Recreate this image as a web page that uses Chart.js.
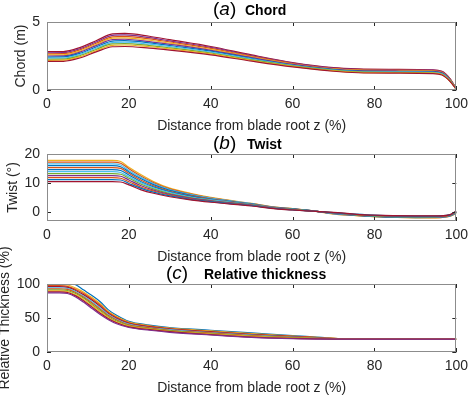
<!DOCTYPE html>
<html><head><meta charset="utf-8">
<script src="https://cdn.jsdelivr.net/npm/chart.js@4.4.1/dist/chart.umd.min.js"></script>
<style>
html,body{margin:0;padding:0;background:#fff;}
#wrap{position:relative;width:474px;height:396px;overflow:hidden;}
#wrap canvas{position:absolute;left:0;top:0;}
</style></head><body>
<div id="wrap">
<canvas id="cA" width="474" height="396"></canvas>
<canvas id="cB" width="474" height="396"></canvas>
<canvas id="cC" width="474" height="396"></canvas>
</div>
<script>
// ---------- data ----------
const xTicks = [0, 20, 40, 60, 80, 100];
const xTitle = 'Distance from blade root z (%)';

// (a) Chord (m)
const chordX = [0, 4, 8, 12, 16, 19, 25, 30, 40, 50, 60, 70, 76, 85, 94, 96.5, 98.5, 100];
const chordSeries = [
  [2.10,2.11,2.35,2.80,3.18,3.20,3.08,2.93,2.58,2.12,1.70,1.38,1.27,1.24,1.21,1.10,0.62,0.05],
  [2.18,2.19,2.44,2.89,3.28,3.31,3.18,3.02,2.65,2.17,1.74,1.41,1.30,1.27,1.24,1.13,0.64,0.05],
  [2.26,2.27,2.52,2.98,3.39,3.41,3.27,3.10,2.72,2.22,1.77,1.44,1.33,1.30,1.27,1.16,0.66,0.06],
  [2.34,2.35,2.61,3.07,3.49,3.52,3.37,3.19,2.79,2.27,1.81,1.47,1.36,1.33,1.30,1.19,0.69,0.06],
  [2.42,2.43,2.69,3.16,3.60,3.63,3.47,3.27,2.86,2.32,1.84,1.50,1.39,1.36,1.33,1.22,0.71,0.06],
  [2.50,2.51,2.78,3.26,3.70,3.73,3.56,3.36,2.92,2.38,1.88,1.52,1.43,1.40,1.37,1.26,0.73,0.07],
  [2.58,2.59,2.86,3.35,3.81,3.84,3.66,3.44,2.99,2.43,1.91,1.55,1.46,1.43,1.40,1.29,0.75,0.07],
  [2.66,2.67,2.95,3.44,3.91,3.95,3.76,3.53,3.06,2.48,1.95,1.58,1.49,1.46,1.43,1.32,0.78,0.07],
  [2.74,2.75,3.03,3.53,4.02,4.05,3.85,3.61,3.13,2.53,1.98,1.61,1.52,1.49,1.46,1.35,0.80,0.08],
  [2.82,2.83,3.12,3.62,4.12,4.16,3.95,3.70,3.20,2.58,2.02,1.64,1.55,1.52,1.49,1.38,0.82,0.08]
];
const chordYTicks = [0, 5];

// (b) Twist (deg)
const twistX = [0, 10, 16, 18, 20, 23, 26, 30, 35, 40, 50, 56, 60, 65, 70, 75, 80, 90, 96, 98.5, 100];
const twistSeries = [
  [10.4,10.4,10.4,10.3,9.3,7.6,6.4,5.2,4.1,3.3,2.0,1.0,0.6,0.2,-0.2,-0.8,-1.2,-1.4,-1.4,-1.0,0.3],
  [11.1,11.1,11.1,11.0,9.8,8.1,6.8,5.5,4.3,3.5,2.1,1.1,0.6,0.2,-0.3,-0.8,-1.2,-1.5,-1.4,-1.0,0.2],
  [11.8,11.8,11.8,11.6,10.4,8.5,7.2,5.8,4.5,3.6,2.2,1.1,0.7,0.2,-0.3,-0.9,-1.3,-1.5,-1.5,-1.1,0.1],
  [12.5,12.5,12.5,12.3,11.0,9.0,7.5,6.0,4.7,3.8,2.3,1.2,0.7,0.2,-0.4,-0.9,-1.3,-1.6,-1.6,-1.1,0.1],
  [13.2,13.2,13.2,13.0,11.6,9.5,7.9,6.3,4.9,3.9,2.4,1.2,0.8,0.2,-0.4,-1.0,-1.4,-1.7,-1.6,-1.2,0.0],
  [13.9,13.9,13.9,13.6,12.1,10.0,8.3,6.6,5.1,4.1,2.5,1.3,0.8,0.2,-0.5,-1.0,-1.4,-1.7,-1.7,-1.2,-0.1],
  [14.6,14.6,14.6,14.3,12.7,10.4,8.6,6.9,5.4,4.2,2.5,1.3,0.9,0.3,-0.5,-1.1,-1.5,-1.8,-1.7,-1.3,-0.1],
  [15.3,15.3,15.3,15.0,13.3,10.9,9.0,7.1,5.6,4.4,2.6,1.4,0.9,0.3,-0.6,-1.1,-1.5,-1.9,-1.8,-1.3,-0.2],
  [16.0,16.0,16.0,15.6,13.8,11.4,9.4,7.4,5.8,4.5,2.7,1.4,1.0,0.3,-0.6,-1.2,-1.6,-1.9,-1.9,-1.4,-0.3],
  [16.6,16.6,16.6,16.2,14.3,11.9,9.8,7.7,6.0,4.7,2.8,1.5,1.0,0.3,-0.7,-1.2,-1.6,-2.0,-1.9,-1.4,-0.4],
  [17.2,17.2,17.2,16.8,14.9,12.3,10.1,7.9,6.2,4.8,2.8,1.5,1.1,0.3,-0.7,-1.3,-1.7,-2.0,-2.0,-1.5,-0.5],
  [17.8,17.8,17.8,17.4,15.4,12.8,10.5,8.2,6.4,5.0,2.9,1.6,1.1,0.3,-0.8,-1.3,-1.7,-2.1,-2.0,-1.5,-0.6]
];
const twistYTicks = [0, 10, 20];

// (c) Relative thickness (%)
const thickX = [0, 3, 5, 7, 9, 11, 13, 15, 17, 20, 25, 30, 40, 50, 60, 66, 73, 80, 90, 100];
const thickSeries = [
  [87,87,86,81,73,64,55,47.5,41.5,36,32,29,25,21.5,19.5,19,19,19,19,19],
  [88.5,88.5,87.5,82.5,75,66,57,49,43,37,33,30,25.5,22,20,19.3,19,19,19,19],
  [90,90,89,84,77,68,59,50.5,44,38,33.5,30.5,26.5,23,20.5,19.6,19,19,19,19],
  [91.5,91.5,90.5,86,79,70,61,52,45.5,39,34.5,31.5,27,23.5,21,20,19,19,19,19],
  [93,93,92,87.5,80.5,72,63,53.5,47,40,35.5,32,28,24,21.5,20.3,19,19,19,19],
  [94.5,94.5,93.5,89,82,74,65,55,48,41,36,33,28.5,25,22,20.6,19.1,19,19,19],
  [96,96,95,90.5,84,76,67,56.5,49.5,42,37,33.5,29.5,25.5,22.5,21,19.1,19,19,19],
  [97.5,97.5,96.5,92,86,78,69,58,51,43,38,34.5,30,26,23,21.3,19.2,19,19,19],
  [99,99,98.5,94,88,80,71,59.5,52,44,38.5,35,31,27,23.5,21.6,19.3,19,19,19],
  [100.5,101,102,99,91,83,74,62,54,45,39.5,36,32,28,24,22,19.4,19,19,19]
];
const thickYTicks = [0, 50, 100];

// ---------- styles ----------
const C = {blue:'#0072BD', orange:'#D95319', yellow:'#EDB120', purple:'#7E2F8E', green:'#77AC30', cyan:'#4DBEEE', red:'#A2142F'};
const chordColors = [C.red, C.yellow, C.green, C.cyan, C.blue, C.purple, C.yellow, C.orange, C.purple, C.red];
const twistColors = [C.red, C.blue, C.orange, C.purple, C.green, C.cyan, C.blue, C.orange, C.blue, C.cyan, C.orange, C.yellow];
const thickColors = [C.purple, C.red, C.yellow, C.green, C.orange, C.cyan, C.red, C.orange, C.yellow, C.blue];
const FONT = '"Liberation Sans", Arial, Helvetica, sans-serif';
const TXT = '#262626';

const framePlugin = {
  id: 'frame',
  afterDatasetsDraw(chart) {
    const {ctx, chartArea: a, scales: {x, y}} = chart;
    ctx.save();
    ctx.lineWidth = 1;
    ctx.strokeStyle = TXT;
    ctx.beginPath();
    x.ticks.forEach(t => {
      const px = Math.round(x.getPixelForValue(t.value)) + 0.5;
      ctx.moveTo(px, a.bottom); ctx.lineTo(px, a.bottom - 4);
      ctx.moveTo(px, a.top); ctx.lineTo(px, a.top + 4);
    });
    y.ticks.forEach(t => {
      const py = Math.round(y.getPixelForValue(t.value)) + 0.5;
      ctx.moveTo(a.left, py); ctx.lineTo(a.left + 4, py);
      ctx.moveTo(a.right, py); ctx.lineTo(a.right - 4, py);
    });
    ctx.stroke();
    ctx.strokeStyle = '#8c8c8c';
    ctx.strokeRect(Math.round(a.left) + 0.5, Math.round(a.top) + 0.5,
                   Math.round(a.right - a.left) - 1, Math.round(a.bottom - a.top) - 1);
    ctx.restore();
  }
};

const titlePlugin = {
  id: 'panelTitle',
  afterDraw(chart, args, o) {
    const ctx = chart.ctx;
    ctx.save();
    ctx.fillStyle = '#000';
    ctx.textBaseline = 'alphabetic';
    ctx.textAlign = 'left';
    let x = o.x0;
    ctx.font = '19px ' + FONT;
    ctx.fillText('(', x, o.base); x += ctx.measureText('(').width;
    ctx.font = 'italic 19px ' + FONT;
    ctx.fillText(o.letter, x, o.base); x += ctx.measureText(o.letter).width;
    ctx.font = '19px ' + FONT;
    ctx.fillText(')', x, o.base);
    ctx.font = 'bold 14px ' + FONT;
    ctx.fillText(o.text, o.x1, o.base);
    ctx.restore();
  }
};

function buildChart(id, p) {
  const datasets = p.series.map((s, k) => ({
    data: p.xs.map((xv, i) => ({x: xv, y: s[i]})),
    borderColor: p.colors[k % p.colors.length],
    borderWidth: 1.2,
    pointRadius: 0,
    fill: false,
    cubicInterpolationMode: 'monotone'
  }));
  return new Chart(document.getElementById(id), {
    type: 'line',
    data: {datasets},
    options: {
      responsive: false,
      animation: false,
      events: [],
      layout: {autoPadding: false, padding: {top: p.top, left: 0, right: 10, bottom: 396 - p.bottom - 44}},
      plugins: {
        legend: {display: false},
        tooltip: {enabled: false},
        panelTitle: p.title
      },
      scales: {
        x: {
          type: 'linear', min: 0, max: 100,
          afterBuildTicks: s => { s.ticks = xTicks.map(v => ({value: v})); },
          afterFit: s => { s.height = 44; },
          grid: {display: false, drawTicks: false},
          border: {display: false},
          ticks: {padding: 6, color: TXT, font: {family: FONT, size: 14}, maxRotation: 0, autoSkip: false},
          title: {display: true, text: xTitle, color: TXT, font: {family: FONT, size: 14, lineHeight: 1}, padding: {top: 0, bottom: 1}}
        },
        y: {
          type: 'linear', min: p.yMin, max: p.yMax,
          afterBuildTicks: s => { s.ticks = p.yTicks.map(v => ({value: v})); },
          afterFit: s => { s.width = 47; },
          grid: {display: false, drawTicks: false},
          border: {display: false},
          ticks: {padding: 7, color: TXT, font: {family: FONT, size: 14}},
          title: {display: true, text: p.yTitle, color: TXT, font: {family: FONT, size: 14, lineHeight: 1}, padding: {top: p.yTitlePad, bottom: 0}}
        }
      }
    },
    plugins: [framePlugin, titlePlugin]
  });
}

buildChart('cA', {xs: chordX, series: chordSeries, colors: chordColors, yMin: 0, yMax: 5, yTicks: chordYTicks,
  yTitle: 'Chord (m)', yTitlePad: 14, top: 22, bottom: 90,
  title: {letter: 'a', text: 'Chord', x0: 213, x1: 245, base: 15}});
buildChart('cB', {xs: twistX, series: twistSeries, colors: twistColors, yMin: -3.2, yMax: 20, yTicks: twistYTicks,
  yTitle: 'Twist (°)', yTitlePad: 6, top: 154, bottom: 221,
  title: {letter: 'b', text: 'Twist', x0: 213, x1: 247, base: 148.5}});
buildChart('cC', {xs: thickX, series: thickSeries, colors: thickColors, yMin: 0, yMax: 100, yTicks: thickYTicks,
  yTitle: 'Relative Thickness (%)', yTitlePad: -2, top: 284, bottom: 352,
  title: {letter: 'c', text: 'Relative thickness', x0: 166, x1: 204, base: 278.5}});
</script>
</body></html>
